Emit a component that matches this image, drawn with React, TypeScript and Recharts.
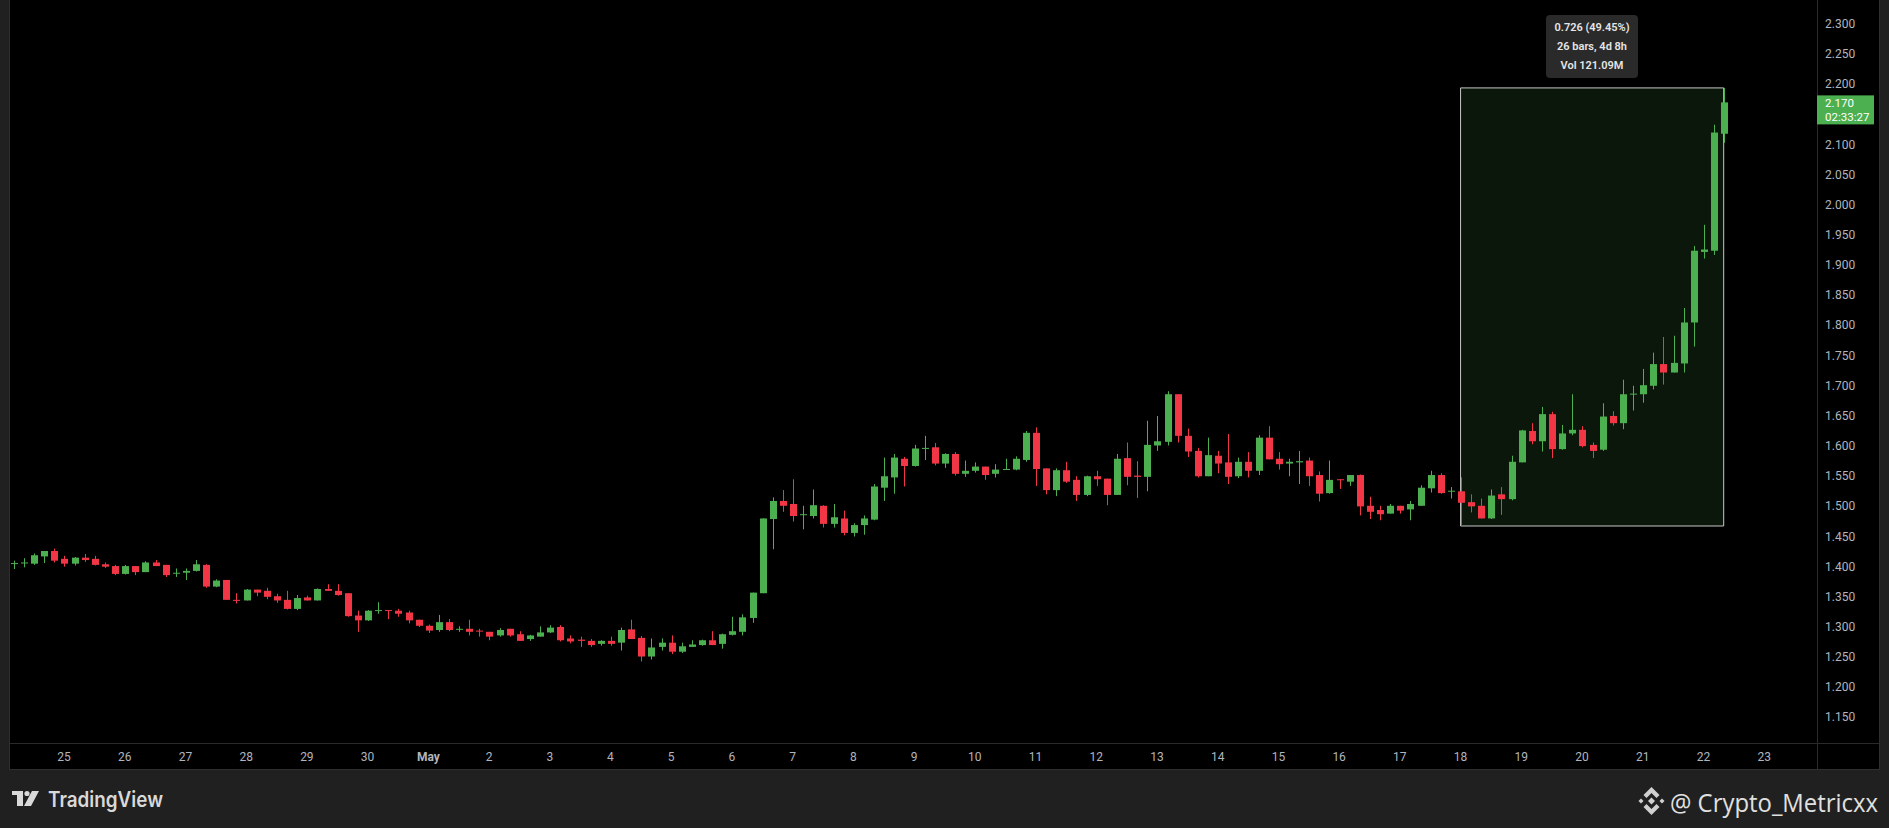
import React from 'react';
import { ComposedChart, Bar, XAxis, YAxis, ReferenceArea, ReferenceLine } from 'recharts';

// 4h candles; index 0 = Apr 25 00:00, first visible candle is index -5
const FIRST_INDEX = -5;

const opens = [
  1.405, 1.406, 1.405, 1.417, 1.426, 1.413, 1.405, 1.415, 1.413, 1.404,
  1.401, 1.388, 1.401, 1.391, 1.407, 1.403, 1.389, 1.390, 1.393, 1.403,
  1.367, 1.378, 1.345, 1.344, 1.362, 1.360, 1.351, 1.345, 1.330, 1.349,
  1.344, 1.363, 1.360, 1.356, 1.319, 1.311, 1.327, 1.328, 1.327, 1.324,
  1.312, 1.302, 1.295, 1.308, 1.296, 1.297, 1.294, 1.292, 1.286, 1.297,
  1.288, 1.280, 1.284, 1.291, 1.300, 1.281, 1.279, 1.277, 1.272, 1.277,
  1.274, 1.296, 1.282, 1.251, 1.267, 1.274, 1.259, 1.267, 1.270, 1.278,
  1.272, 1.287, 1.292, 1.315, 1.356, 1.479, 1.509, 1.504, 1.486, 1.484,
  1.501, 1.471, 1.480, 1.456, 1.469, 1.478, 1.531, 1.548, 1.579, 1.567,
  1.596, 1.598, 1.571, 1.587, 1.554, 1.559, 1.566, 1.554, 1.561, 1.561,
  1.577, 1.622, 1.563, 1.527, 1.560, 1.544, 1.519, 1.550, 1.546, 1.519,
  1.580, 1.551, 1.549, 1.601, 1.607, 1.686, 1.617, 1.592, 1.550, 1.584,
  1.573, 1.550, 1.574, 1.559, 1.614, 1.579, 1.571, 1.573, 1.576, 1.552,
  1.522, 1.545, 1.541, 1.552, 1.501, 1.494, 1.488, 1.501, 1.495, 1.501,
  1.530, 1.552, 1.525, 1.525, 1.507, 1.501, 1.480, 1.520, 1.512, 1.573,
  1.625, 1.608, 1.653, 1.595, 1.621, 1.627, 1.602, 1.594, 1.650, 1.638,
  1.686, 1.686, 1.700, 1.736, 1.722, 1.737, 1.805, 1.922, 1.924, 2.118,
];
const highs = [
  1.410, 1.414, 1.422, 1.426, 1.430, 1.418, 1.416, 1.421, 1.418, 1.407,
  1.403, 1.403, 1.401, 1.409, 1.411, 1.403, 1.397, 1.397, 1.411, 1.404,
  1.379, 1.378, 1.356, 1.363, 1.362, 1.365, 1.355, 1.360, 1.353, 1.352,
  1.364, 1.371, 1.371, 1.356, 1.327, 1.328, 1.341, 1.328, 1.330, 1.327,
  1.312, 1.304, 1.320, 1.313, 1.301, 1.312, 1.297, 1.292, 1.298, 1.297,
  1.293, 1.287, 1.301, 1.303, 1.303, 1.286, 1.284, 1.280, 1.278, 1.284,
  1.299, 1.312, 1.285, 1.281, 1.281, 1.286, 1.274, 1.278, 1.279, 1.293,
  1.289, 1.317, 1.321, 1.357, 1.480, 1.515, 1.527, 1.545, 1.501, 1.528,
  1.502, 1.504, 1.493, 1.472, 1.485, 1.537, 1.581, 1.587, 1.582, 1.602,
  1.617, 1.605, 1.588, 1.590, 1.576, 1.573, 1.566, 1.570, 1.579, 1.583,
  1.625, 1.631, 1.563, 1.563, 1.574, 1.550, 1.551, 1.559, 1.546, 1.587,
  1.606, 1.575, 1.642, 1.650, 1.691, 1.686, 1.629, 1.597, 1.614, 1.592,
  1.620, 1.581, 1.590, 1.618, 1.633, 1.590, 1.579, 1.592, 1.581, 1.558,
  1.576, 1.545, 1.552, 1.553, 1.516, 1.501, 1.504, 1.501, 1.509, 1.535,
  1.559, 1.555, 1.532, 1.548, 1.520, 1.513, 1.528, 1.532, 1.584, 1.627,
  1.638, 1.665, 1.657, 1.635, 1.686, 1.633, 1.606, 1.671, 1.658, 1.710,
  1.700, 1.728, 1.755, 1.781, 1.783, 1.829, 1.932, 1.967, 2.133, 2.194,
];
const lows = [
  1.396, 1.399, 1.403, 1.406, 1.407, 1.400, 1.402, 1.408, 1.402, 1.398,
  1.386, 1.387, 1.386, 1.391, 1.401, 1.383, 1.383, 1.378, 1.392, 1.365,
  1.366, 1.345, 1.339, 1.344, 1.351, 1.346, 1.340, 1.329, 1.328, 1.344,
  1.344, 1.360, 1.352, 1.317, 1.292, 1.310, 1.322, 1.313, 1.317, 1.306,
  1.300, 1.290, 1.292, 1.293, 1.292, 1.286, 1.284, 1.278, 1.284, 1.284,
  1.277, 1.277, 1.284, 1.290, 1.276, 1.273, 1.267, 1.267, 1.269, 1.269,
  1.261, 1.280, 1.243, 1.246, 1.261, 1.255, 1.257, 1.267, 1.269, 1.270,
  1.264, 1.286, 1.286, 1.307, 1.356, 1.429, 1.491, 1.475, 1.462, 1.480,
  1.465, 1.465, 1.452, 1.450, 1.453, 1.477, 1.509, 1.521, 1.533, 1.566,
  1.577, 1.568, 1.564, 1.551, 1.549, 1.556, 1.544, 1.548, 1.561, 1.560,
  1.574, 1.534, 1.520, 1.517, 1.539, 1.509, 1.517, 1.534, 1.502, 1.519,
  1.535, 1.514, 1.525, 1.592, 1.601, 1.606, 1.582, 1.548, 1.550, 1.555,
  1.537, 1.547, 1.548, 1.552, 1.578, 1.561, 1.550, 1.537, 1.534, 1.508,
  1.521, 1.529, 1.534, 1.485, 1.479, 1.477, 1.488, 1.488, 1.477, 1.501,
  1.523, 1.521, 1.513, 1.4675, 1.490, 1.480, 1.479, 1.486, 1.510, 1.573,
  1.603, 1.591, 1.580, 1.594, 1.618, 1.598, 1.580, 1.592, 1.634, 1.628,
  1.659, 1.672, 1.694, 1.702, 1.722, 1.722, 1.765, 1.911, 1.917, 2.103,
];
const closes = [
  1.406, 1.407, 1.419, 1.426, 1.410, 1.405, 1.415, 1.411, 1.403, 1.400,
  1.388, 1.401, 1.391, 1.407, 1.401, 1.386, 1.390, 1.393, 1.404, 1.367,
  1.377, 1.345, 1.344, 1.362, 1.357, 1.350, 1.344, 1.330, 1.348, 1.344,
  1.363, 1.360, 1.353, 1.318, 1.311, 1.327, 1.328, 1.327, 1.322, 1.311,
  1.302, 1.294, 1.308, 1.295, 1.297, 1.292, 1.293, 1.284, 1.295, 1.286,
  1.277, 1.286, 1.291, 1.299, 1.278, 1.276, 1.277, 1.270, 1.277, 1.272,
  1.295, 1.280, 1.251, 1.266, 1.274, 1.259, 1.268, 1.271, 1.278, 1.270,
  1.288, 1.293, 1.316, 1.357, 1.480, 1.509, 1.501, 1.484, 1.487, 1.502,
  1.471, 1.482, 1.456, 1.469, 1.480, 1.533, 1.550, 1.581, 1.567, 1.596,
  1.597, 1.571, 1.587, 1.554, 1.559, 1.566, 1.552, 1.561, 1.562, 1.579,
  1.622, 1.562, 1.527, 1.560, 1.541, 1.519, 1.550, 1.545, 1.519, 1.579,
  1.549, 1.549, 1.602, 1.608, 1.686, 1.617, 1.591, 1.550, 1.585, 1.571,
  1.549, 1.574, 1.559, 1.614, 1.578, 1.570, 1.574, 1.575, 1.550, 1.521,
  1.544, 1.544, 1.552, 1.500, 1.491, 1.487, 1.501, 1.493, 1.504, 1.531,
  1.552, 1.522, 1.526, 1.506, 1.500, 1.480, 1.518, 1.512, 1.574, 1.626,
  1.608, 1.653, 1.595, 1.621, 1.627, 1.600, 1.592, 1.649, 1.638, 1.686,
  1.687, 1.701, 1.736, 1.722, 1.738, 1.805, 1.924, 1.926, 2.120, 2.170,
];

const dayLabels = [
  '25', '26', '27', '28', '29', '30', 'May', '2', '3', '4', '5', '6', '7', '8', '9',
  '10', '11', '12', '13', '14', '15', '16', '17', '18', '19', '20', '21', '22', '23',
];
const BARS_PER_DAY = 6;

// 2.150 is hidden behind the last-price label in the reference
const priceTicks = [
  1.15, 1.2, 1.25, 1.3, 1.35, 1.4, 1.45, 1.5, 1.55, 1.6, 1.65, 1.7,
  1.75, 1.8, 1.85, 1.9, 1.95, 2.0, 2.05, 2.1, 2.2, 2.25, 2.3,
];

const lastPrice = 2.17;
const countdown = '02:33:27';

const measureRange = [138, 164];
const measurePrices = [1.4675, 2.194];
const measureLines = ['0.726 (49.45%)', '26 bars, 4d 8h', 'Vol 121.09M'];

const candles = opens.map((o, i) => ({
  t: FIRST_INDEX + i,
  o,
  h: highs[i],
  l: lows[i],
  c: closes[i],
}));

const UP = '#4caf50';
const DOWN = '#f23645';
const AXIS_TEXT = '#b2b5be';
const FONT = 'Roboto, "Noto Sans", sans-serif';

const Candle = (props: any) => {
  const { x, y, width, height, payload } = props;
  if (x == null || y == null || !payload) return null;
  const top = Math.min(y, y + height);
  const bottom = Math.max(y, y + height);
  const span = payload.h - payload.l;
  const toY = (v: number) => (span > 0 ? top + ((payload.h - v) / span) * (bottom - top) : top);
  const up = payload.c >= payload.o;
  const color = up ? UP : DOWN;
  const cx = Math.round(x + width / 2) + 0.5;
  const bTop = toY(Math.max(payload.o, payload.c));
  const bBot = toY(Math.min(payload.o, payload.c));
  const bh = Math.max(1, bBot - bTop);
  const w = width;
  return (
    <g>
      <line x1={cx} x2={cx} y1={top} y2={bottom} stroke={color} strokeWidth={1} />
      <rect x={cx - w / 2} y={bTop} width={w} height={bh} fill={color} />
    </g>
  );
};

const DateTick = (props: any) => {
  const { x, y, payload } = props;
  const label = dayLabels[Math.round(payload.value / BARS_PER_DAY)];
  return (
    <text
      x={x}
      y={y}
      textAnchor="middle"
      dominantBaseline="central"
      fill={AXIS_TEXT}
      fontSize={12}
      fontFamily={FONT}
      fontWeight={label === 'May' ? 700 : 400}
    >
      {label}
    </text>
  );
};

const PriceTick = (props: any) => {
  const { x, y, payload } = props;
  return (
    <text x={x} y={y} textAnchor="start" dominantBaseline="central" fill={AXIS_TEXT} fontSize={12} fontFamily={FONT}>
      {Number(payload.value).toFixed(3)}
    </text>
  );
};

const PriceLabel = (props: any) => {
  const vb = props.viewBox || {};
  const ly = vb.y;
  const lx = (vb.x || 0) + (vb.width || 0);
  if (ly == null) return null;
  return (
    <g>
      <rect x={lx} y={ly - 7} width={57} height={29} fill={UP} />
      <text x={lx + 8} y={ly + 1} dominantBaseline="central" fill="#ffffff" fontSize={11.5} fontFamily={FONT}>
        {lastPrice.toFixed(3)}
      </text>
      <text x={lx + 8} y={ly + 15} dominantBaseline="central" fill="#ffffff" fontSize={11.5} fontFamily={FONT}>
        {countdown}
      </text>
    </g>
  );
};

const dayTicks = dayLabels.map((_, d) => d * BARS_PER_DAY);

export default function App() {
  return (
    <div style={{ position: 'absolute', left: 0, top: 0, width: 1889, height: 828, background: '#202020', overflow: 'hidden' }}>
      {/* chart panel */}
      <div style={{ position: 'absolute', left: 9, top: -1, width: 1871, height: 771, background: '#000', border: '1px solid #2e2e2e', boxSizing: 'border-box' }} />
      <div style={{ position: 'absolute', left: 10, top: 743, width: 1869, height: 1, background: '#2a2a2a' }} />
      <div style={{ position: 'absolute', left: 1817, top: 0, width: 1, height: 769, background: '#2a2a2a' }} />

      <div style={{ position: 'absolute', left: 0, top: 0 }}>
        <ComposedChart width={1889} height={828} data={candles} margin={{ top: 0, right: 9, bottom: 58, left: 10 }}>
          <XAxis
            dataKey="t"
            type="number"
            domain={[-5.336, 173.22]}
            allowDataOverflow
            ticks={dayTicks}
            interval={0}
            tick={<DateTick />}
            tickLine={false}
            axisLine={false}
            tickSize={0}
            tickMargin={14}
            height={27}
          />
          <YAxis
            orientation="right"
            type="number"
            domain={[1.1076, 2.3398]}
            allowDataOverflow
            ticks={priceTicks}
            interval={0}
            tick={<PriceTick />}
            tickLine={false}
            axisLine={false}
            tickSize={0}
            tickMargin={8}
            width={63}
          />
          <ReferenceArea
            x1={measureRange[0]}
            x2={measureRange[1]}
            y1={measurePrices[0]}
            y2={measurePrices[1]}
            fill="rgba(76,175,80,0.13)"
            fillOpacity={1}
            stroke="#c8c8c8"
            strokeWidth={1}
          />
          <Bar
            dataKey={(d: any) => [d.l, d.h]}
            barSize={7}
            shape={<Candle />}
            isAnimationActive={false}
          />
          <ReferenceLine y={lastPrice} stroke="none" label={<PriceLabel />} />
        </ComposedChart>
      </div>

      {/* measurement tooltip */}
      <div
        style={{
          position: 'absolute', left: 1546, top: 15, width: 92, height: 63, background: '#2a2a2a', borderRadius: 4,
          color: '#e6e6e6', fontFamily: FONT, fontSize: 11, fontWeight: 600, textAlign: 'center', lineHeight: '19px',
          paddingTop: 2.5, boxSizing: 'border-box',
        }}
      >
        {measureLines.map((t) => (
          <div key={t}>{t}</div>
        ))}
      </div>

      {/* footer */}
      <svg style={{ position: 'absolute', left: 0, top: 770 }} width={1889} height={58}>
        <g fill="#d9d9d9">
          <polygon points="12,21 23,21 23,36 17,36 17,25 12,25" />
          <circle cx={27} cy={23.5} r={2.6} />
          <polygon points="32,21 39,21 31,36 24,36" />
        </g>
        <text x={48} y={29} dominantBaseline="central" fill="#d9d9d9" fontSize={21} fontWeight={600}
          fontFamily='Inter, "Noto Sans", sans-serif' textLength={115} lengthAdjust="spacingAndGlyphs">
          TradingView
        </text>
        <g fill="#d0d0d0" transform="translate(1638,17)">
          <polygon points="13.5,0 21.5,8 18.5,11 13.5,6 8.5,11 5.5,8" />
          <polygon points="13.5,28 21.5,20 18.5,17 13.5,22 8.5,17 5.5,20" />
          <polygon points="13.5,10.5 17,14 13.5,17.5 10,14" />
          <polygon points="3,11.5 5.5,14 3,16.5 0.5,14" />
          <polygon points="24,11.5 26.5,14 24,16.5 21.5,14" />
        </g>
        <text x={1670} y={32} dominantBaseline="central" fill="#e0e0e0" fontSize={25}
          fontFamily='"Open Sans", "Noto Sans", sans-serif' textLength={208} lengthAdjust="spacingAndGlyphs">
          @ Crypto_Metricxx
        </text>
      </svg>
    </div>
  );
}
